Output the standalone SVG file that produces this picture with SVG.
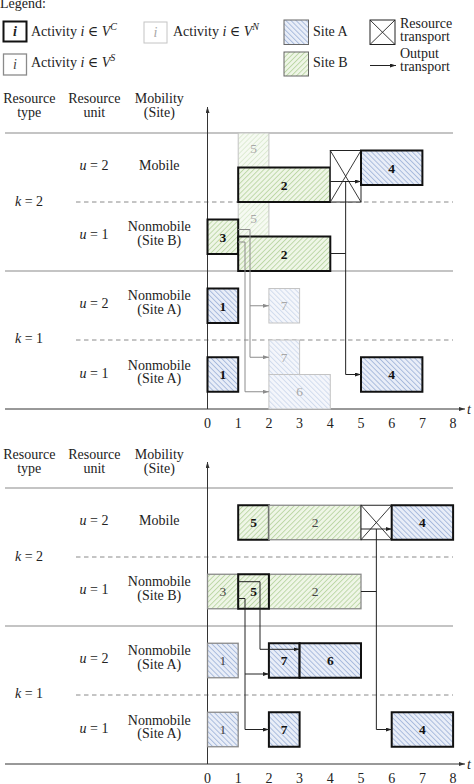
<svg xmlns="http://www.w3.org/2000/svg" width="474" height="784" viewBox="0 0 474 784">
<defs>
<style>
.t{font-family:"Liberation Serif","DejaVu Serif",serif;font-size:14px;fill:#222}
.c{text-anchor:middle}
.it{font-style:italic}
.bl{font-family:"Liberation Serif","DejaVu Serif",serif;font-size:13.5px;font-weight:bold;text-anchor:middle;fill:#111}
.sl{font-family:"Liberation Serif","DejaVu Serif",serif;font-size:13.5px;text-anchor:middle;fill:#444}
.nl{font-family:"Liberation Serif","DejaVu Serif",serif;font-size:13.5px;text-anchor:middle;fill:#a8a8a8}
.vc{stroke:#111;stroke-width:2}
.vs{stroke:#8a8a8a;stroke-width:1.3}
.vn{stroke:#c4c4c4;stroke-width:1}
.A{fill:url(#hA)}.B{fill:url(#hB)}.An{fill:url(#hAn)}.Bn{fill:url(#hBn)}
.grid{stroke:#8a8a8a;stroke-width:1.1;fill:none}
.dash{stroke:#8a8a8a;stroke-width:1;stroke-dasharray:4.5 3.5;fill:none}
.ax{stroke:#333;stroke-width:1;fill:none}
.cb{stroke:#222;stroke-width:1;fill:none}
.cg{stroke:#8c8c8c;stroke-width:1;fill:none}
.xb{stroke:#222;stroke-width:1;fill:#fff}
.xl{stroke:#222;stroke-width:0.9}
</style>
<pattern id="hA" width="3.6" height="3.6" patternUnits="userSpaceOnUse" patternTransform="rotate(-45)"><rect width="3.6" height="3.6" fill="#e9eef8"/><line x1="0.5" y1="0" x2="0.5" y2="3.6" stroke="#8ea5d2" stroke-width="0.7"/></pattern>
<pattern id="hB" width="3.6" height="3.6" patternUnits="userSpaceOnUse" patternTransform="rotate(45)"><rect width="3.6" height="3.6" fill="#eff6e7"/><line x1="0.5" y1="0" x2="0.5" y2="3.6" stroke="#a9cc8e" stroke-width="0.7"/></pattern>
<pattern id="hAn" width="3.6" height="3.6" patternUnits="userSpaceOnUse" patternTransform="rotate(-45)"><rect width="3.6" height="3.6" fill="#f4f6fb"/><line x1="0.5" y1="0" x2="0.5" y2="3.6" stroke="#c3d0e8" stroke-width="0.7"/></pattern>
<pattern id="hBn" width="3.6" height="3.6" patternUnits="userSpaceOnUse" patternTransform="rotate(45)"><rect width="3.6" height="3.6" fill="#f6faf2"/><line x1="0.5" y1="0" x2="0.5" y2="3.6" stroke="#d2e3c4" stroke-width="0.7"/></pattern>
<marker id="ab" viewBox="0 0 6 4" refX="6" refY="2" markerWidth="6" markerHeight="4" markerUnits="userSpaceOnUse" orient="auto"><path d="M0,0 L6,2 L0,4 Z" fill="#222"/></marker>
<marker id="ag" viewBox="0 0 6 4" refX="6" refY="2" markerWidth="6" markerHeight="4" markerUnits="userSpaceOnUse" orient="auto"><path d="M0,0 L6,2 L0,4 Z" fill="#8c8c8c"/></marker>
<marker id="aa" viewBox="0 0 6 4" refX="6" refY="2" markerWidth="6" markerHeight="4" markerUnits="userSpaceOnUse" orient="auto"><path d="M0,0 L6,2 L0,4 Z" fill="#333"/></marker>
</defs>
<rect width="474" height="784" fill="#fff"/>

<!-- Legend -->
<g id="legend">
<text class="t" x="0" y="8">Legend:</text>
<rect x="3.5" y="21.5" width="23" height="20" fill="#fff" class="vc"/>
<text class="t it" x="15" y="36" text-anchor="middle" font-weight="bold">i</text>
<text class="t" x="31" y="36">Activity <tspan class="it">i</tspan> ∈ <tspan class="it">V</tspan><tspan class="it" font-size="10" dy="-6">C</tspan></text>
<rect x="144" y="22" width="23" height="21" fill="#fff" class="vn"/>
<text class="t it" x="155.5" y="37" text-anchor="middle" style="fill:#a8a8a8">i</text>
<text class="t" x="173" y="36">Activity <tspan class="it">i</tspan> ∈ <tspan class="it">V</tspan><tspan class="it" font-size="10" dy="-6">N</tspan></text>
<rect x="3.5" y="54" width="23" height="21" fill="#fff" class="vs"/>
<text class="t it" x="15" y="68.5" text-anchor="middle" style="fill:#444">i</text>
<text class="t" x="31" y="67">Activity <tspan class="it">i</tspan> ∈ <tspan class="it">V</tspan><tspan class="it" font-size="10" dy="-6">S</tspan></text>
<rect x="284" y="20" width="24.5" height="24.5" class="A" stroke="#666" stroke-width="1"/>
<text class="t" x="313" y="36">Site A</text>
<rect x="284" y="52" width="24.5" height="24" class="B" stroke="#666" stroke-width="1"/>
<text class="t" x="313" y="67">Site B</text>
<rect x="370" y="20" width="25" height="24.5" class="xb"/>
<line x1="370" y1="20" x2="395" y2="44.5" class="xl"/>
<line x1="395" y1="20" x2="370" y2="44.5" class="xl"/>
<text class="t" x="400" y="27.5">Resource</text>
<text class="t" x="400" y="40.5">transport</text>
<line x1="370" y1="65.5" x2="396" y2="65.5" class="cb" marker-end="url(#ab)"/>
<text class="t" x="400" y="57.5">Output</text>
<text class="t" x="400" y="71">transport</text>
</g>

<!-- ===== Top chart ===== -->
<g id="top-frame">
<text class="t c" x="29.3" y="103">Resource</text><text class="t c" x="29.3" y="116.5">type</text>
<text class="t c" x="94.3" y="103">Resource</text><text class="t c" x="94.3" y="116.5">unit</text>
<text class="t c" x="159.3" y="103">Mobility</text><text class="t c" x="159.3" y="116.5">(Site)</text>
<line x1="5" y1="133" x2="453" y2="133" class="grid"/>
<line x1="76" y1="202" x2="453" y2="202" class="dash"/>
<line x1="5" y1="271" x2="453" y2="271" class="grid"/>
<line x1="76" y1="340" x2="453" y2="340" class="dash"/>
<text class="t c" x="29" y="205.5"><tspan class="it">k</tspan> = 2</text>
<text class="t c" x="29" y="343"><tspan class="it">k</tspan> = 1</text>
<text class="t c" x="94" y="169.5"><tspan class="it">u</tspan> = 2</text>
<text class="t c" x="159.3" y="169.5">Mobile</text>
<text class="t c" x="94" y="238.5"><tspan class="it">u</tspan> = 1</text>
<text class="t c" x="159.3" y="231">Nonmobile</text><text class="t c" x="159.3" y="244.5">(Site B)</text>
<text class="t c" x="94" y="307.5"><tspan class="it">u</tspan> = 2</text>
<text class="t c" x="159.3" y="300">Nonmobile</text><text class="t c" x="159.3" y="313.5">(Site A)</text>
<text class="t c" x="94" y="377.5"><tspan class="it">u</tspan> = 1</text>
<text class="t c" x="159.3" y="369.5">Nonmobile</text><text class="t c" x="159.3" y="383">(Site A)</text>
<line x1="207.5" y1="409" x2="207.5" y2="107" class="ax" marker-end="url(#aa)"/>
<line x1="5" y1="409" x2="465" y2="409" class="ax" marker-end="url(#aa)"/>
<text class="t it" x="467" y="413.5">t</text>
<g class="t c">
<text x="207.5" y="428">0</text><text x="238.2" y="428">1</text><text x="268.9" y="428">2</text><text x="299.6" y="428">3</text><text x="330.3" y="428">4</text><text x="361" y="428">5</text><text x="391.7" y="428">6</text><text x="422.4" y="428">7</text><text x="453.1" y="428">8</text>
</g>
</g>

<g id="t-n5"><rect x="238.2" y="133" width="30.7" height="138" class="Bn vn"/><text class="nl" x="253.5" y="152.5">5</text><text class="nl" x="253.5" y="223">5</text></g>
<g id="t-n7a"><rect x="268.9" y="288.5" width="30.7" height="34.5" class="An vn"/><text class="nl" x="284.2" y="310">7</text></g>
<g id="t-n7b"><rect x="268.9" y="340" width="30.7" height="34.5" class="An vn"/><text class="nl" x="284.2" y="361.5">7</text></g>
<g id="t-n6"><rect x="268.9" y="374.5" width="61.4" height="34.5" class="An vn"/><text class="nl" x="299.6" y="396">6</text></g>
<g id="t-2a"><rect x="238.2" y="167.5" width="92.1" height="34.5" class="B vc"/><text class="bl" x="284.2" y="189.5">2</text></g>
<g id="t-x"><rect x="330.3" y="150.5" width="30.7" height="51.5" class="xb"/><line x1="330.3" y1="150.5" x2="361" y2="202" class="xl"/><line x1="361" y1="150.5" x2="330.3" y2="202" class="xl"/></g>
<g id="t-4a"><rect x="361" y="150.5" width="61.4" height="34.5" class="A vc"/><text class="bl" x="391.7" y="172.5">4</text></g>
<g id="t-3"><rect x="207.5" y="219.5" width="30.7" height="34.5" class="B vc"/><text class="bl" x="222.8" y="241.5">3</text></g>
<g id="t-2b"><rect x="238.2" y="236.5" width="92.1" height="34.5" class="B vc"/><text class="bl" x="284.2" y="258.5">2</text></g>
<g id="t-1a"><rect x="207.5" y="288.5" width="30.7" height="34.5" class="A vc"/><text class="bl" x="222.8" y="310.5">1</text></g>
<g id="t-1b"><rect x="207.5" y="357.25" width="30.7" height="34.5" class="A vc"/><text class="bl" x="222.8" y="379">1</text></g>
<g id="t-4b"><rect x="361" y="357.25" width="61.4" height="34.5" class="A vc"/><text class="bl" x="391.7" y="379">4</text></g>

<!-- ===== Bottom chart ===== -->
<g id="bottom-frame">
<text class="t c" x="29.3" y="459">Resource</text><text class="t c" x="29.3" y="472.5">type</text>
<text class="t c" x="94.3" y="459">Resource</text><text class="t c" x="94.3" y="472.5">unit</text>
<text class="t c" x="159.3" y="459">Mobility</text><text class="t c" x="159.3" y="472.5">(Site)</text>
<line x1="5" y1="488" x2="453" y2="488" class="grid"/>
<line x1="76" y1="557" x2="453" y2="557" class="dash"/>
<line x1="5" y1="626" x2="453" y2="626" class="grid"/>
<line x1="76" y1="695" x2="453" y2="695" class="dash"/>
<text class="t c" x="29" y="560.5"><tspan class="it">k</tspan> = 2</text>
<text class="t c" x="29" y="698"><tspan class="it">k</tspan> = 1</text>
<text class="t c" x="94" y="524.5"><tspan class="it">u</tspan> = 2</text>
<text class="t c" x="159.3" y="524.5">Mobile</text>
<text class="t c" x="94" y="593.5"><tspan class="it">u</tspan> = 1</text>
<text class="t c" x="159.3" y="586">Nonmobile</text><text class="t c" x="159.3" y="599.5">(Site B)</text>
<text class="t c" x="94" y="662.5"><tspan class="it">u</tspan> = 2</text>
<text class="t c" x="159.3" y="655">Nonmobile</text><text class="t c" x="159.3" y="668.5">(Site A)</text>
<text class="t c" x="94" y="732.5"><tspan class="it">u</tspan> = 1</text>
<text class="t c" x="159.3" y="724.5">Nonmobile</text><text class="t c" x="159.3" y="738">(Site A)</text>
<line x1="207.5" y1="764" x2="207.5" y2="462" class="ax" marker-end="url(#aa)"/>
<line x1="5" y1="764" x2="465" y2="764" class="ax" marker-end="url(#aa)"/>
<text class="t it" x="467" y="768.5">t</text>
<g class="t c">
<text x="207.5" y="783">0</text><text x="238.2" y="783">1</text><text x="268.9" y="783">2</text><text x="299.6" y="783">3</text><text x="330.3" y="783">4</text><text x="361" y="783">5</text><text x="391.7" y="783">6</text><text x="422.4" y="783">7</text><text x="453.1" y="783">8</text>
</g>
</g>

<g id="b-5a"><rect x="238.2" y="505.25" width="30.7" height="34.5" class="B vc"/><text class="bl" x="253.5" y="527">5</text></g>
<g id="b-2a"><rect x="268.9" y="505.25" width="92.1" height="34.5" class="B vs"/><text class="sl" x="315" y="527">2</text></g>
<g id="b-x"><rect x="361" y="505.25" width="30.7" height="34.5" class="xb"/><line x1="361" y1="505.25" x2="391.7" y2="539.75" class="xl"/><line x1="391.7" y1="505.25" x2="361" y2="539.75" class="xl"/></g>
<g id="b-4a"><rect x="391.7" y="505.25" width="61.4" height="34.5" class="A vc"/><text class="bl" x="422.4" y="527">4</text></g>
<g id="b-3"><rect x="207.5" y="574.25" width="30.7" height="34.5" class="B vs"/><text class="sl" x="222.8" y="596">3</text></g>
<g id="b-2b"><rect x="268.9" y="574.25" width="92.1" height="34.5" class="B vs"/><text class="sl" x="315" y="596">2</text></g>
<g id="b-5b"><rect x="238.2" y="574.25" width="30.7" height="34.5" class="B vc"/><text class="bl" x="253.5" y="596">5</text></g>
<g id="b-1a"><rect x="207.5" y="643.25" width="30.7" height="34.5" class="A vs"/><text class="sl" x="222.8" y="665">1</text></g>
<g id="b-7a"><rect x="268.9" y="643.25" width="30.7" height="34.5" class="A vc"/><text class="bl" x="284.2" y="665">7</text></g>
<g id="b-6"><rect x="299.6" y="643.25" width="61.4" height="34.5" class="A vc"/><text class="bl" x="330.3" y="665">6</text></g>
<g id="b-1b"><rect x="207.5" y="712.25" width="30.7" height="34.5" class="A vs"/><text class="sl" x="222.8" y="734">1</text></g>
<g id="b-7b"><rect x="268.9" y="712.25" width="30.7" height="34.5" class="A vc"/><text class="bl" x="284.2" y="734">7</text></g>
<g id="b-4b"><rect x="391.7" y="712.25" width="61.4" height="34.5" class="A vc"/><text class="bl" x="422.4" y="734">4</text></g>

<g id="connectors">
<polyline points="238.2,229.5 250,229.5 250,357.25 268.9,357.25" class="cg" marker-end="url(#ag)"/>
<line x1="250" y1="305.75" x2="268.9" y2="305.75" class="cg" marker-end="url(#ag)"/>
<polyline points="238.2,242 245,242 245,391.75 268.9,391.75" class="cg" marker-end="url(#ag)"/>
<line x1="330.3" y1="181.5" x2="361" y2="181.5" class="cb" marker-end="url(#ab)"/>
<polyline points="345.65,181.5 345.65,374.5 361,374.5" class="cb" marker-end="url(#ab)"/>
<line x1="330.3" y1="253.5" x2="345.65" y2="253.5" class="cb"/>
<polyline points="238.2,581.7 260,581.7 260,649.3 299.6,649.3" class="cb" marker-end="url(#ab)"/>
<polyline points="238.2,598.5 245,598.5 245,729.5 268.9,729.5" class="cb" marker-end="url(#ab)"/>
<line x1="245" y1="674" x2="268.9" y2="674" class="cb" marker-end="url(#ab)"/>
<line x1="361" y1="529" x2="391.7" y2="529" class="cb" marker-end="url(#ab)"/>
<polyline points="376.35,529 376.35,729.5 391.7,729.5" class="cb" marker-end="url(#ab)"/>
<line x1="361" y1="591.5" x2="376.35" y2="591.5" class="cb"/>
</g>
</svg>
